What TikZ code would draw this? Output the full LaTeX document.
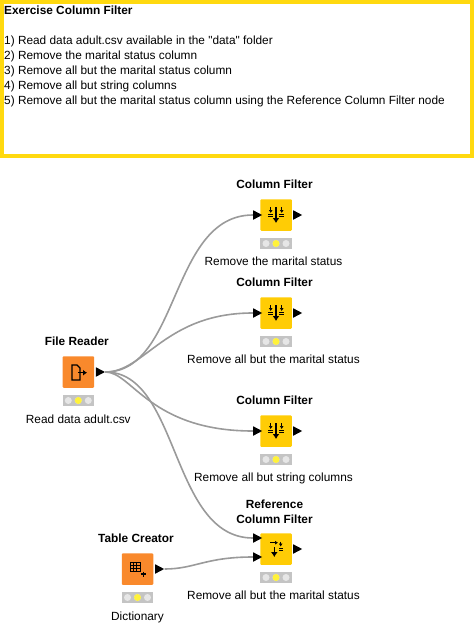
\documentclass[tikz,border=0pt]{standalone}
\usepackage{fontspec}
\setmainfont{Liberation Sans}
\newfontfamily\straightfont{Liberation Sans}
\usetikzlibrary{shapes.geometric,arrows.meta}
\definecolor{noteyellow}{HTML}{FFD90F}
\definecolor{sourceorange}{HTML}{F9892C}
\definecolor{manipyellow}{HTML}{FFCC05}
\definecolor{lightgrey}{HTML}{C4C4C4}
\definecolor{dotgrey}{HTML}{E6E6E6}
\definecolor{dotyellow}{HTML}{FFF23A}
\definecolor{wiregrey}{HTML}{9A9A9A}
\tikzset{
	knode/.style={rounded corners=1pt, minimum size=31.5pt, inner sep=0pt},
	port/.style={isosceles triangle, isosceles triangle stretches, fill=black, inner sep=0pt, minimum width=9.5pt, minimum height=9pt},
	lights/.style={fill=lightgrey, minimum width=31.5pt, minimum height=11.5pt, inner sep=0pt},
	lamp/.style={circle, fill=dotgrey, minimum size=7pt, inner sep=0pt},
	title/.style={font=\fontsize{11.85}{15}\selectfont\bfseries, align=center, anchor=base},
	caption/.style={font=\fontsize{11.85}{14}\selectfont, anchor=base},
	note/.style={font=\fontsize{11.85}{14}\selectfont, anchor=base west, inner sep=0pt},
	wire/.style={draw=wiregrey, line width=1.6pt},
	glyph/.style={line width=1.1pt, black},
	bigdown/.style={line width=1.5pt, -{Latex[length=5pt,width=7pt]}},
	smalldown/.style={line width=0.7pt, -{Latex[length=3pt,width=4pt]}},
	thinbar/.style={line width=0.7pt}
}
\begin{document}
\begin{tikzpicture}[x=1pt, y=-1pt]
	\useasboundingbox (0,0) rectangle (474,623);
	\draw[noteyellow, line width=4pt] (2,2) rectangle (472,156);
	\node[note, font=\fontsize{11.85}{14}\selectfont\bfseries] (noteTitle) at (4,15) {Exercise Column Filter};
	\node[note] (noteA) at (4,45) {\straightfont 1) Read data adult.csv available in the "data" folder};
	\node[note] (noteB) at (4,60) {2) Remove the marital status column};
	\node[note] (noteC) at (4,75) {3) Remove all but the marital status column};
	\node[note] (noteD) at (4,90) {4) Remove all but string columns};
	\node[note] (noteE) at (4,105) {5) Remove all but the marital status column using the Reference Column Filter node};

	% sources
	\foreach \name/\x/\y/\head/\text in {read/78.3/372/File Reader/Read data adult.csv, dict/137.5/569/Table Creator/Dictionary} {
		\node[knode, fill=sourceorange] (\name) at (\x,\y) {};
		\node[port] (\name Out) at (\x+20.5,\y) {};
		\node[lights] (\name Lights) at (\x,\y+28.5) {};
		\foreach \d in {-10,0,10} \node[lamp] at (\x+\d,\y+28.5) {};
		\node[lamp, fill=dotyellow] at (\x,\y+28.5) {};
		\node[title] at (\x-1.5,\y-27) {\head};
		\node[caption] at (\x,\y+51) {\text};
	}

	% filters
	\foreach \name/\y/\text in {cfA/215/Remove the marital status, cfB/313/Remove all but the marital status, cfC/431/Remove all but string columns, cfD/549/Remove all but the marital status} {
		\node[knode, fill=manipyellow] (\name) at (276,\y) {};
		\node[port] (\name Out) at (296,\y) {};
		\node[lights] (\name Lights) at (276,\y+28.5) {};
		\foreach \d in {-10,0,10} \node[lamp] at (276+\d,\y+28.5) {};
		\node[lamp, fill=dotyellow] at (276,\y+28.5) {};
		\node[caption] at (273.5,\y+50) {\text};
	}
	\node[title] at (274.5,188) {Column Filter};
	\node[title] at (274.5,286) {Column Filter};
	\node[title] at (274.5,404) {Column Filter};
	\node[title] at (274.5,508) {Reference};
	\node[title] at (274.5,523) {Column Filter};

	% input ports
	\node[port] (cfAIn) at (256,215) {};
	\node[port] (cfBIn) at (256,313) {};
	\node[port] (cfCIn) at (256,431) {};
	\node[port] (cfDInA) at (256,538) {};
	\node[port] (cfDInB) at (256,557) {};

	% wires
	\draw[wire] (readOut.east) .. controls (180,372) and (170,215) .. (cfAIn.west);
	\draw[wire] (readOut.east) .. controls (145,372) and (165,313) .. (cfBIn.west);
	\draw[wire] (readOut.east) .. controls (132,372) and (150,431) .. (cfCIn.west);
	\draw[wire] (readOut.east) .. controls (180,372) and (170,538) .. (cfDInA.west);
	\draw[wire] (dictOut.east) .. controls (195,569) and (205,557) .. (cfDInB.west);

	% icons
	\draw[glyph] (72,365) -- (77,365) -- (80,368) -- (80,380) -- (72,380) -- cycle;
	\draw[line width=1.1pt, -{Latex[length=4pt,width=6pt]}] (78,372.7) -- (87,372.7);
	\draw[glyph, line width=0.6pt] (130,562) rectangle (140,571);
	\foreach \d in {3.3,6.7} {
		\draw[glyph, line width=0.6pt] (130+\d,562) -- (130+\d,571);
		\draw[glyph, line width=0.6pt] (130,562+\d) -- (140,562+\d);
	}
	\draw[glyph, line width=1.4pt] (140.5,574) -- (146,574);
	\draw[glyph, line width=1.4pt] (143.2,571.5) -- (143.2,576.5);
	\foreach \y in {215,313,431} {
		\draw[bigdown] (276,\y-8) -- (276,\y+8);
		\foreach \d in {-5.3,5.7} {
			\draw[smalldown] (276+\d,\y-8) -- (276+\d,\y-2);
			\draw[thinbar] (276+\d-2.5,\y-0.5) -- (276+\d+2.5,\y-0.5);
			\draw[thinbar] (276+\d-2.5,\y+1.5) -- (276+\d+2.5,\y+1.5);
		}
	}
	\draw[bigdown] (274.3,547) -- (274.3,557);
	\draw[smalldown] (270,542.7) -- (278,542.7);
	\draw[smalldown] (280.7,541.5) -- (280.7,546.5);
	\draw[thinbar] (279,548) -- (282.5,548);
	\draw[thinbar] (279,550) -- (282.5,550);
\end{tikzpicture}
\end{document}
